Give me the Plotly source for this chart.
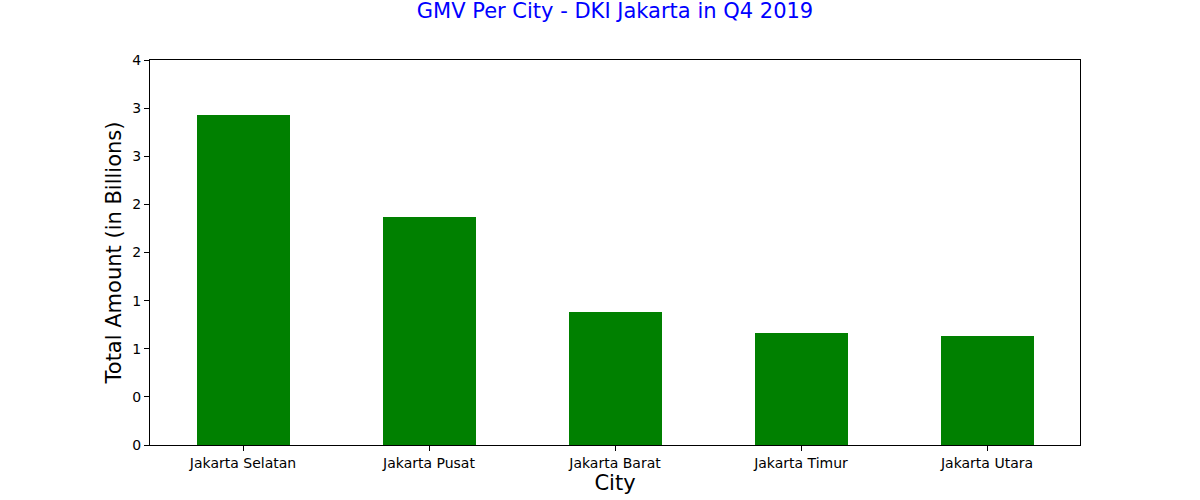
import plotly.graph_objects as go

cities = ['Jakarta Selatan', 'Jakarta Pusat', 'Jakarta Barat', 'Jakarta Timur', 'Jakarta Utara']
gmv_billions = [3.43, 2.37, 1.38, 1.16, 1.13]

tick_vals = [0, 0.5, 1, 1.5, 2, 2.5, 3, 3.5, 4]
tick_text = ['0', '0', '1', '1', '2', '2', '3', '3', '4']

fig = go.Figure()

fig.add_trace(go.Bar(
    x=cities,
    y=gmv_billions,
    width=0.5,
    marker=dict(color='green', line=dict(width=0)),
    name='GMV'
))

fig.update_layout(
    title=dict(
        text="GMV Per City - DKI Jakarta in Q4 2019",
        x=(150 + 1080) / 2 / 1200,
        xanchor='center',
        yref='container',
        y=1 - 11 / 500,
        yanchor='middle',
        font=dict(family='DejaVu Sans', size=21, color='blue')
    ),
    width=1200,
    height=500,
    margin=dict(l=150, r=120, t=60, b=55),
    plot_bgcolor='white',
    paper_bgcolor='white',
    font=dict(family='DejaVu Sans', size=14, color='black'),
    showlegend=False,
    bargap=0
)

fig.update_xaxes(
    title=dict(text="City", font=dict(size=21), standoff=4),
    range=[-0.5, 4.5],
    showline=True, linecolor='black', linewidth=1, mirror=True,
    ticks='outside', ticklen=5, tickcolor='black',
    showgrid=False, zeroline=False
)

fig.update_yaxes(
    title=dict(text="Total Amount (in Billions)", font=dict(size=21), standoff=4),
    range=[0, 4],
    tickmode='array', tickvals=tick_vals, ticktext=tick_text,
    showline=True, linecolor='black', linewidth=1, mirror=True,
    ticks='outside', ticklen=5, tickcolor='black',
    showgrid=False, zeroline=False
)

# drop the browser's default body margin so the figure sits at the page origin
fig.write_html("out.html", config={'displayModeBar': False},
               post_script="document.body.style.margin='0px';")
